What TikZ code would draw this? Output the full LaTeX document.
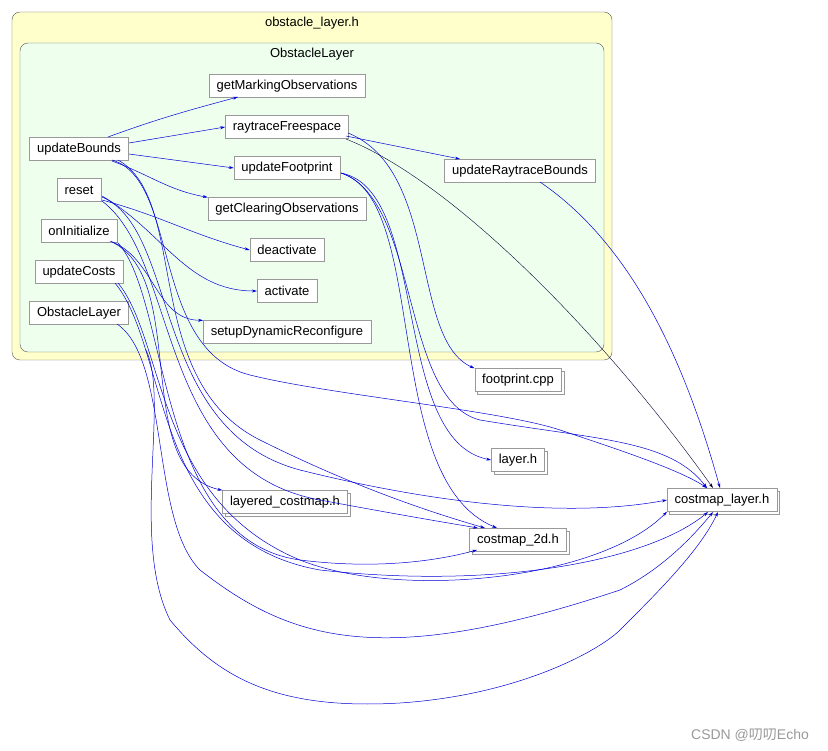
\documentclass[tikz,border=0pt]{standalone}
\usepackage{fontspec}
\setmainfont{Liberation Sans}
\newfontfamily\cjk{Noto Sans CJK SC}
\usetikzlibrary{arrows.meta,shadows}
\begin{document}
\begin{tikzpicture}[x=1pt,y=-1pt,
  n/.style={draw=black!40,fill=white,font=\fontsize{13}{15}\selectfont,minimum height=23pt,inner xsep=7.5pt,inner ysep=0pt},
  f/.style={n,copy shadow={shadow xshift=2.5pt,shadow yshift=-2.5pt,draw=black!40,fill=white}},
  e/.style={draw=blue!85!black,line width=0.5pt,-{Stealth[length=5pt,width=3pt]}}]
\useasboundingbox (0,0) rectangle (828,751);
\draw[black!65,fill={rgb,255:red,255;green,255;blue,204},rounded corners=8pt] (12,12) rectangle (612,360);
\node[font=\fontsize{13}{15}\selectfont] (t1) at (312,23) {obstacle\_layer.h};
\draw[black!65,fill={rgb,255:red,238;green,255;blue,238},rounded corners=8pt] (20,43) rectangle (604,352);
\node[font=\fontsize{13}{15}\selectfont] (t2) at (312,54) {ObstacleLayer};
\node[n] (gm) at (287,86) {getMarkingObservations};
\node[n] (rf) at (287,127) {raytraceFreespace};
\node[n] (ub) at (79,149) {updateBounds};
\node[n] (uf) at (287,168) {updateFootprint};
\node[n] (urb) at (520,171) {updateRaytraceBounds};
\node[n] (rs) at (79,190) {reset};
\node[n] (gc) at (287,209) {getClearingObservations};
\node[n] (oi) at (79,231) {onInitialize};
\node[n] (de) at (287,250) {deactivate};
\node[n] (uc) at (79,272) {updateCosts};
\node[n] (ac) at (287,291) {activate};
\node[n] (ol) at (79,313) {ObstacleLayer};
\node[n] (sd) at (287,332) {setupDynamicReconfigure};
\node[f] (fp) at (518,380) {footprint.cpp};
\node[f] (lh) at (518,460) {layer.h};
\node[f] (lc) at (285,502) {layered\_costmap.h};
\node[f] (cl) at (722,500) {costmap\_layer.h};
\node[f] (c2) at (518,540) {costmap\_2d.h};
\node[text=black!40,font=\fontsize{14}{16}\selectfont] (wm) at (750,735) {CSDN @{\cjk 叨叨}Echo};
\coordinate (gmE) at (238,97);
\coordinate (urbE) at (460,159);
\coordinate (clN1) at (707,488);
\coordinate (clN2) at (713,488);
\coordinate (clN3) at (720,488);
\coordinate (clS1) at (708,512);
\coordinate (clS2) at (713,512);
\coordinate (clS3) at (718,512);
% short edges
\draw[e] (108,137) to[out=20,in=195] (gmE);
\draw[e] (129,143) -- (rf.west);
\draw[e] (129,154) -- (uf.west);
\draw[e] (112,161) to[out=-20,in=170] (gc.north west);
\draw[e] (346,136) -- (urbE);
\draw[e] (102,200) to[out=-15,in=165] (de.west);
\draw[e] (102,196) to[out=-30,in=180] (ac.west);
\draw[e] (110,241) to[out=-20,in=180] (sd.north west);
% long edges
\draw[e] (112,160) .. controls (180,180) and (150,350) .. (250,375) .. controls (330,395) and (500,410) .. (560,430) .. controls (620,450) and (680,470) .. (clN1);
\draw[e] (118,160) .. controls (190,200) and (140,380) .. (260,440) .. controls (360,490) and (440,515) .. (485,528);
\draw[e] (102,197) .. controls (180,230) and (150,430) .. (300,470) .. controls (420,500) and (560,520) .. (cl.west);
\draw[e] (102,201) .. controls (180,260) and (155,470) .. (320,500) .. controls (400,515) and (460,525) .. (478,528);
\draw[e] (112,242) .. controls (190,280) and (130,470) .. (lc.north west);
\draw[e] (118,243) .. controls (170,300) and (155,540) .. (300,560) .. controls (380,570) and (440,560) .. (477,550);
\draw[e] (115,283) .. controls (170,350) and (150,540) .. (320,570) .. controls (500,590) and (650,560) .. (clS1);
\draw[e] (118,283) .. controls (165,340) and (155,500) .. (300,560) .. controls (400,600) and (600,580) .. (cl.south west);
\draw[e] (117,324) .. controls (170,360) and (150,520) .. (200,570) .. controls (290,640) and (380,670) .. (620,590) .. controls (660,570) and (690,540) .. (clS2);
\draw[e] (146,350) .. controls (170,400) and (130,540) .. (170,620) .. controls (220,680) and (280,710) .. (400,703) .. controls (520,695) and (600,650) .. (620,630) .. controls (660,590) and (700,550) .. (clS3);
\draw[e] (348,133) .. controls (440,170) and (410,340) .. (fp.north west);
\draw[black!80!blue,line width=0.4pt,-{Stealth[length=5pt,width=3pt]}] (346,139) .. controls (450,180) and (600,330) .. (clN2);
\draw[e] (540,182) .. controls (640,250) and (690,380) .. (clN3);
\draw[e] (341,173) .. controls (430,190) and (390,440) .. (lh.west);
\draw[e] (341,173) .. controls (430,200) and (380,480) .. (497,528);
\draw[e] (341,173) .. controls (420,200) and (400,400) .. (480,420) .. controls (600,440) and (670,440) .. (clN1);
\end{tikzpicture}
\end{document}
